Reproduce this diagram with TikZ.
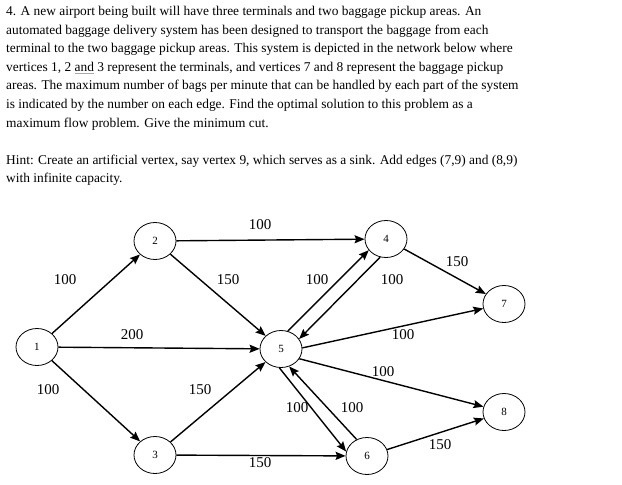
\documentclass[tikz,border=0pt]{standalone}
\usepackage{fontspec}
\setmainfont{Liberation Serif}
\usepackage{tikz}
\usetikzlibrary{arrows.meta, shapes.geometric}
\definecolor{spellpink}{RGB}{226,140,170}

\begin{document}
\begin{tikzpicture}[
    x=1pt, y=-1pt,
    vertex/.style={draw, ellipse, line width=0.8pt, minimum width=42pt, minimum height=37pt, inner sep=0pt, font=\fontsize{11}{13}\selectfont},
    arr/.style={-{Stealth[length=10pt, width=8pt, inset=1.5pt]}, line width=1.4pt},
    wlabel/.style={font=\fontsize{15}{17}\selectfont, inner sep=0pt},
]
\useasboundingbox (0,0) rectangle (622,485);

% Problem statement
\node[anchor=north west, inner sep=0pt, align=left, font=\fontsize{13.4}{18.6}\selectfont] (question) at (6,6) {%
4. A new airport being built will have three terminals and two baggage pickup areas. An\\
automated baggage delivery system has been designed to transport the baggage from each\\
terminal to the two baggage pickup areas. This system is depicted in the network below where\\
vertices 1, 2 \textcolor{spellpink}{\underline{\textcolor{black}{and}}} 3 represent the terminals, and vertices 7 and 8 represent the baggage pickup\\
areas. The maximum number of bags per minute that can be handled by each part of the system\\
is indicated by the number on each edge. Find the optimal solution to this problem as a\\
maximum flow problem. Give the minimum cut.\\[18.6pt]
Hint: Create an artificial vertex, say vertex 9, which serves as a sink. Add edges (7,9) and (8,9)\\
with infinite capacity.};

% Vertices
\node[vertex] (n1) at (37,347) {1};
\node[vertex] (n2) at (155,241) {2};
\node[vertex] (n3) at (155,455) {3};
\node[vertex] (n4) at (386,239) {4};
\node[vertex] (n5) at (281,349) {5};
\node[vertex] (n6) at (367,456) {6};
\node[vertex] (n7) at (504,304) {7};
\node[vertex] (n8) at (504,412) {8};

% Terminals to hubs
\draw[arr] (n1) -- (n2);
\draw[arr] (n1) -- (n5);
\draw[arr] (n1) -- (n3);
\draw[arr] (n2) -- (n4);
\draw[arr] (n2) -- (n5);
\draw[arr] (n3) -- (n5);
\draw[arr] (n3) -- (n6);

% Two-way links at 5
\draw[arr] (n5.69) -- (n4.213);
\draw[arr] (n4.252) -- (n5.29);
\draw[arr] (n5.265) -- (n6.168);
\draw[arr] (n6.122) -- (n5.295);

% To the pickup areas
\draw[arr] (n4) -- (n7);
\draw[arr] (n5.3) -- (n7);
\draw[arr] (n5.-28) -- (n8);
\draw[arr] (n6) -- (n8);

% Capacities
\node[wlabel] (w12) at (65,280) {100};
\node[wlabel] (w15) at (132,335) {200};
\node[wlabel] (w13) at (48,390) {100};
\node[wlabel] (w24) at (260,225) {100};
\node[wlabel] (w25) at (228,280) {150};
\node[wlabel] (w35) at (200,390) {150};
\node[wlabel] (w36) at (260,463) {150};
\node[wlabel] (w54) at (317,280) {100};
\node[wlabel] (w45) at (392,280) {100};
\node[wlabel] (w47) at (457,262) {150};
\node[wlabel] (w57) at (403,335) {100};
\node[wlabel] (w58) at (383,372) {100};
\node[wlabel] (w56) at (297,408) {100};
\node[wlabel] (w65) at (352,408) {100};
\node[wlabel] (w68) at (440,445) {150};

\end{tikzpicture}
\end{document}
